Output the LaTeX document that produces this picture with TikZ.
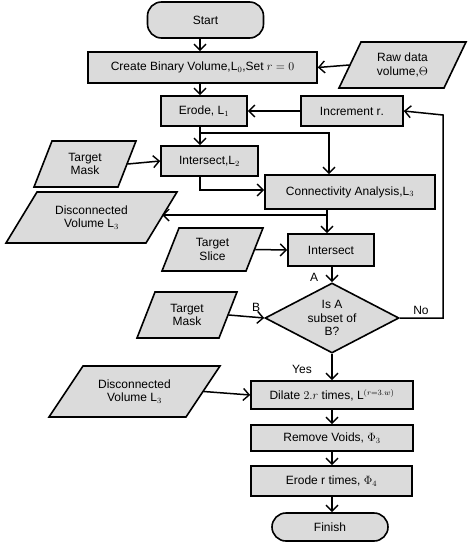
\documentclass[tikz,border=0pt]{standalone}
\usepackage{fontspec}
\setmainfont{Liberation Sans}
\usetikzlibrary{shapes.geometric,arrows.meta,calc}
\definecolor{boxfill}{gray}{0.86}
\newcommand\iopara[7]{%
  \draw[base] ({#2-#4/2},{#3+#5/2}) -- ({#2+#4/2-#6},{#3+#5/2}) -- ({#2+#4/2},{#3-#5/2}) -- ({#2-#4/2+#6},{#3-#5/2}) -- cycle;
  \node[inner sep=0pt,align=center,minimum width={(#4-#6)*1pt},minimum height={#5*1pt}] (#1) at (#2,#3) {#7};}
\begin{document}
\begin{tikzpicture}[x=1pt,y=-1pt,
  font=\fontsize{12}{13.5}\selectfont,
  line width=1.5pt,
  base/.style={draw=black,fill=boxfill,inner sep=0pt,align=center,line width=1.6pt},
  procbox/.style={base,rectangle},
  termbox/.style={base,rectangle,rounded corners=14pt},
  decbox/.style={base,diamond,aspect=1.9},
  arr/.style={-{Straight Barb[length=6pt,width=12pt,line width=1.4pt]}},
  lbl/.style={inner sep=0pt}]
\useasboundingbox (0,0) rectangle (474,544);

\node[termbox,minimum width=116pt,minimum height=36pt] (start) at (205.5,20) {Start};
\node[procbox,minimum width=229pt,minimum height=31pt] (create) at (202.5,67.5) {Create Binary Volume,$\mathrm{L}_0$,Set $r=0$};
\iopara{raw}{402.5}{65}{127}{46}{22}{Raw data\\volume,$\Theta$}
\node[procbox,minimum width=86pt,minimum height=30pt] (erode) at (204,111) {Erode, $\mathrm{L}_1$};
\node[procbox,minimum width=102pt,minimum height=30pt] (incr) at (352,111) {Increment $\mathrm{r}$.};
\iopara{tmaskA}{85}{164}{102}{46}{18}{Target\\Mask}
\node[procbox,minimum width=97pt,minimum height=30pt] (interA) at (209.5,161) {Intersect,$\mathrm{L}_2$};
\node[procbox,minimum width=170pt,minimum height=34pt] (conn) at (350,192) {Connectivity Analysis,$\mathrm{L}_3$};
\iopara{discA}{91.5}{217.5}{171}{51}{31}{Disconnected\\Volume $\mathrm{L}_3$}
\iopara{tslice}{212.5}{249.5}{101}{43}{17}{Target\\Slice}
\node[procbox,minimum width=86pt,minimum height=32pt] (inter) at (331,250) {Intersect};
\node[decbox,minimum width=134pt,minimum height=70pt] (dec) at (332,318) {};
\node[align=center,inner sep=0pt] at (dec.center) {Is A\\subset of\\B?};
\iopara{tmaskB}{187}{315}{100}{46}{18}{Target\\Mask}
\iopara{discB}{134.5}{391.5}{171}{51}{34}{Disconnected\\Volume $\mathrm{L}_3$}
\node[procbox,minimum width=162pt,minimum height=28pt] (dilate) at (332,395) {Dilate $2.r$ times, $\mathrm{L}^{(r=3.w)}$};
\node[procbox,minimum width=162pt,minimum height=26pt] (remove) at (332,438) {Remove Voids, $\Phi_3$};
\node[procbox,minimum width=161pt,minimum height=30pt] (erodeB) at (331.5,481) {Erode r times, $\Phi_4$};
\node[termbox,minimum width=116pt,minimum height=28pt] (finish) at (330,527) {Finish};

\coordinate (colL) at (200,0);
\coordinate (colR) at (329,0);
\coordinate (colM) at (332,0);
\coordinate (split1) at (200,133);
\coordinate (join1) at (200,190);
\coordinate (split2) at (327,215);
\coordinate (loopB) at (443,318);
\coordinate (loopT) at (443,115);

\draw[arr] (start.south -| colL) -- (create.north -| colL);
\draw[arr] (raw.west) -- (create.east);
\draw[arr] (create.south -| colL) -- (erode.north -| colL);
\draw[arr] (incr.west) -- (erode.east);
\draw[arr] (erode.south -| colL) -- (interA.north -| colL);
\draw[arr] (split1) -- (split1 -| colR) -- (conn.north -| colR);
\draw[arr] (tmaskA.east) -- (interA.west);
\draw[arr] (interA.south -| colL) -- (join1) -- (join1 -| conn.west);
\draw[arr] (conn.south -| split2) -- (inter.north -| split2);
\draw[arr] (split2) -- (split2 -| discA.east);
\draw[arr] (tslice.east) -- (inter.west);
\draw[arr] (inter.south -| colM) -- (dec.north);
\draw[arr] (tmaskB.east) -- (dec.west);
\draw[arr] (dec.east) -- (loopB) -- (loopT) -- (incr.east);
\draw[arr] (dec.south) -- (dilate.north -| colM);
\draw[arr] (discB.east) -- (dilate.west);
\draw[arr] (dilate.south -| colM) -- (remove.north -| colM);
\draw[arr] (remove.south -| colM) -- (erodeB.north -| colM);
\draw[arr] (erodeB.south -| colM) -- (finish.north -| colM);

\node[lbl] at (314,277) {A};
\node[lbl] at (256,307) {B};
\node[lbl] at (421,310) {No};
\node[lbl] at (302,369) {Yes};
\end{tikzpicture}
\end{document}
